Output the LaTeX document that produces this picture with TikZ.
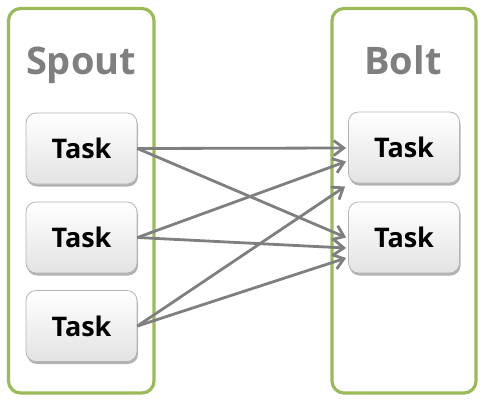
\documentclass[tikz,border=0pt]{standalone}
\usepackage{fontspec}
\setmainfont{Open Sans}
\usetikzlibrary{arrows.meta,shadows,calc}
\definecolor{grn}{HTML}{9BBB59}
\definecolor{arr}{HTML}{7F7F7F}
\definecolor{ttl}{HTML}{7F7F7F}
\definecolor{tborder}{HTML}{B5B5B5}
\tikzset{
  group/.style={draw=grn, line width=3.2pt, rounded corners=12pt},
  title/.style={anchor=base, text=ttl, font=\fontsize{38}{40}\selectfont\bfseries, inner sep=0pt},
  taskbox/.style={draw=tborder, line width=0.8pt, rounded corners=10pt,
    top color=white, bottom color=black!11,
    drop shadow={shadow xshift=1pt, shadow yshift=-2.5pt, opacity=0.3, fill=black},
    minimum width=111pt, minimum height=71pt, inner sep=0pt,
    font=\fontsize{27}{29}\selectfont\bfseries},
  flow/.style={draw=arr, line width=2.8pt, -{Straight Barb[length=10pt,width=15pt,line width=2.8pt]}}
}
\begin{document}
\begin{tikzpicture}[x=1pt,y=-1pt]
\useasboundingbox (0,0) rectangle (486,405);
\draw[group] (8.5,8.5) rectangle (154,393);
\draw[group] (332,8.5) rectangle (476,393);
\node[title] (ts) at (81,74) {Spout};
\node[title] (tb) at (403,74) {Bolt};
\node[taskbox] (L1) at (81.5,148.5) {Task};
\node[taskbox] (L2) at (81.5,237.5) {Task};
\node[taskbox] (L3) at (81.5,326) {Task};
\node[taskbox] (R1) at (404,147.5) {Task};
\node[taskbox] (R2) at (404,237.5) {Task};
\draw[flow] (L1.east) -- ($(R1.west)+(-2,0.5)$);
\draw[flow] (L2.east) -- ($(R1.west)+(-2,14)$);
\draw[flow] (L3.east) -- ($(R1.west)+(-3,39)$);
\draw[flow] (L1.east) -- ($(R2.west)+(-2,0)$);
\draw[flow] (L2.east) -- ($(R2.west)+(-2,10.5)$);
\draw[flow] (L3.east) -- ($(R2.west)+(-2,20.5)$);
\end{tikzpicture}
\end{document}
